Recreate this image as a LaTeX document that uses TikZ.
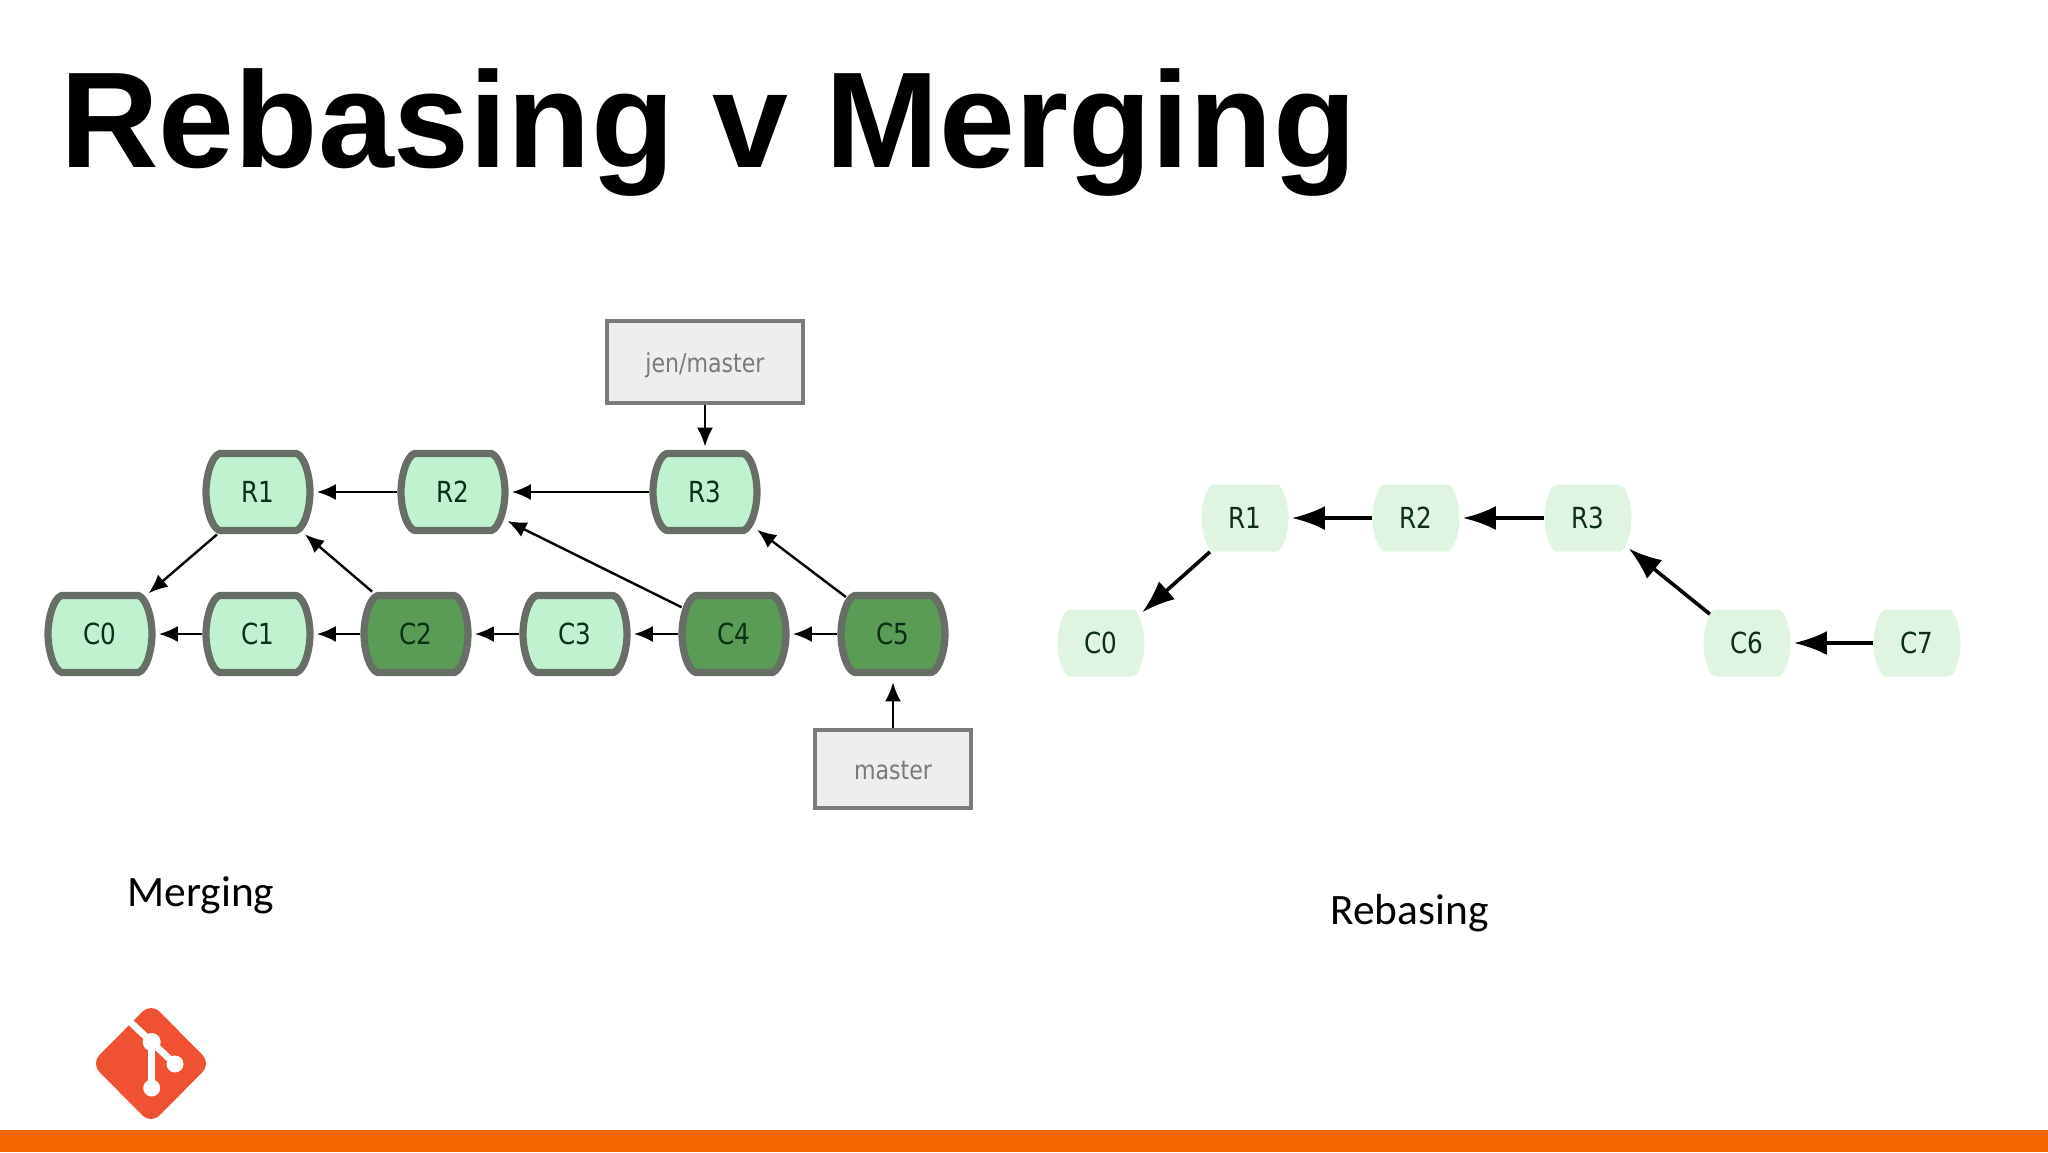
\documentclass[tikz,border=0pt]{standalone}
\usepackage{fontspec}
\usepackage{tikz}
\usetikzlibrary{arrows.meta,backgrounds}
\setmainfont{Liberation Sans}
\newfontfamily\captionfont{Carlito}
\newfontfamily\commitfont[FakeStretch=0.85]{DejaVu Sans}
\definecolor{barcolor}{HTML}{F46500}
\definecolor{logored}{HTML}{F05133}
\definecolor{commitline}{HTML}{666E66}
\definecolor{commitlight}{HTML}{C0F2CF}
\definecolor{commitdark}{HTML}{5A9B55}
\definecolor{commitpale}{HTML}{E0F4E2}
\definecolor{commitink}{HTML}{0C2F18}
\definecolor{boxfill}{HTML}{EEEEEE}
\definecolor{boxline}{HTML}{7A7A7A}
\newcommand{\barrelpath}{(-.37,.5) -- (.37,.5) .. controls (.45,.46) and (.5,.2) .. (.5,0) .. controls (.5,-.2) and (.45,-.46) .. (.37,-.5) -- (-.37,-.5) .. controls (-.45,-.46) and (-.5,-.2) .. (-.5,0) .. controls (-.5,.2) and (-.45,.46) .. (-.37,.5) -- cycle}
\tikzset{
    commit/.style={text=commitink, font=\commitfont\fontsize{14.5}{16}\selectfont, inner sep=0pt,
        minimum width=55.5pt, minimum height=42pt},
    palecommit/.style={commit, minimum width=43.5pt, minimum height=33.5pt},
    bigbarrel/.style={x=52pt, y=38.5pt, line width=3.6pt, draw=commitline, line join=round},
    palebarrel/.style={x=43.5pt, y=33.5pt, fill=commitpale},
    branch/.style={draw=boxline, fill=boxfill, line width=1.8pt, text=boxline, inner sep=0pt,
        text height=10.5pt, text depth=0pt, font=\commitfont\fontsize{13}{15}\selectfont},
    thinarrow/.style={line width=1.2pt, -{Latex[length=9.5pt,width=8pt]}, shorten >=1.5pt},
    fatarrow/.style={line width=1.8pt, -{Latex[length=16.5pt,width=12pt]}, shorten >=1.5pt},
    caption/.style={anchor=base west, inner sep=0pt, font=\captionfont\fontsize{21.7}{26}\selectfont}
}
\begin{document}
\begin{tikzpicture}[x=.5pt,y=-.5pt]
    \useasboundingbox (0,0) rectangle (2048,1152);
    \fill[barcolor] (0,1130) rectangle (2048,1152);

    \node[anchor=base west, inner sep=0pt, font=\bfseries\fontsize{68.2}{82}\selectfont] (title) at (60,167) {Rebasing v Merging};

    % merging
    \node[commit] (mR1) at (258,492) {R1};
    \node[commit] (mR2) at (453,492) {R2};
    \node[commit] (mR3) at (705,492) {R3};
    \node[commit] (mC0) at (100,634) {C0};
    \node[commit] (mC1) at (258,634) {C1};
    \node[commit] (mC2) at (416,634) {C2};
    \node[commit] (mC3) at (575,634) {C3};
    \node[commit] (mC4) at (734,634) {C4};
    \node[commit] (mC5) at (893,634) {C5};
    \node[branch, minimum width=98pt, minimum height=41pt] (jen) at (705,362) {jen/master};
    \node[branch, minimum width=78pt, minimum height=39pt] (master) at (893,769) {master};

    \draw[thinarrow] (mR2) -- (mR1);
    \draw[thinarrow] (mR3) -- (mR2);
    \draw[thinarrow] (mC1) -- (mC0);
    \draw[thinarrow] (mC2) -- (mC1);
    \draw[thinarrow] (mC3) -- (mC2);
    \draw[thinarrow] (mC4) -- (mC3);
    \draw[thinarrow] (mC5) -- (mC4);
    \draw[thinarrow, shorten >=-1.2pt] (mR1.226) -- (mC0.40);
    \draw[thinarrow, shorten >=0pt] (mC2.136) -- (mR1.-42);
    \draw[thinarrow, shorten >=-.8pt, shorten <=-2pt] (mC4.153) -- (mR2.-28);
    \draw[thinarrow, shorten >=-2.3pt, shorten <=-4.5pt] (mC5.142) -- (mR3.-36);
    \draw[thinarrow] (jen) -- (mR3);
    \draw[thinarrow, shorten >=3pt] (master) -- (mC5);

    % rebasing
    \node[palecommit] (rR1) at (1245,518) {R1};
    \node[palecommit] (rR2) at (1416,518) {R2};
    \node[palecommit] (rR3) at (1588,518) {R3};
    \node[palecommit] (rC0) at (1101,643) {C0};
    \node[palecommit] (rC6) at (1747,643) {C6};
    \node[palecommit] (rC7) at (1917,643) {C7};

    \draw[fatarrow] (rR2) -- (rR1);
    \draw[fatarrow] (rR3) -- (rR2);
    \draw[fatarrow] (rC7) -- (rC6);
    \draw[fatarrow, shorten >=-1.8pt] (rR1.224) -- (rC0.37);
    \draw[fatarrow, shorten >=-2pt, shorten <=-4pt] (rC6.142) -- (rR3.-37);

    % barrels behind the labels
    \begin{scope}[on background layer]
        \foreach \n/\c in {mR1/commitlight, mR2/commitlight, mR3/commitlight, mC0/commitlight, mC1/commitlight,
            mC2/commitdark, mC3/commitlight, mC4/commitdark, mC5/commitdark}
            \draw[bigbarrel, fill=\c, shift={(\n.center)}] \barrelpath;
        \foreach \n in {rR1, rR2, rR3, rC0, rC6, rC7}
            \fill[palebarrel, shift={(\n.center)}] \barrelpath;
    \end{scope}

    \node[caption] (merging) at (127,906) {Merging};
    \node[caption] (rebasing) at (1330,924) {Rebasing};

    % logo
    \fill[logored, rounded corners=6pt] (151,1003) -- (211,1063.5) -- (151,1124) -- (91,1063.5) -- cycle;
    \draw[white, line width=3.4pt] (126,1018) -- (175,1064);
    \draw[white, line width=3.4pt] (151.7,1042) -- (151.7,1088);
    \fill[white] (151.7,1042) circle (9);
    \fill[white] (175,1064) circle (8.5);
    \fill[white] (151.7,1088) circle (8.5);
\end{tikzpicture}
\end{document}
